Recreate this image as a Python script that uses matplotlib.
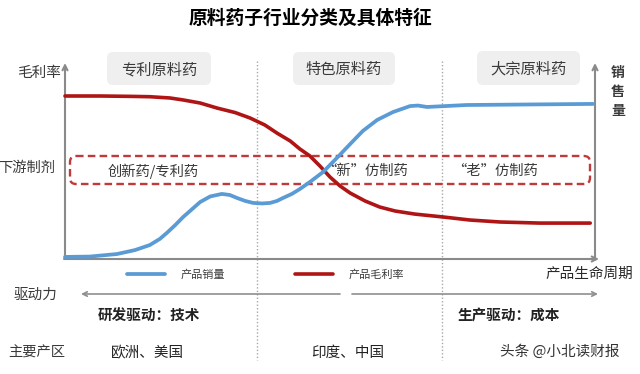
import matplotlib
matplotlib.use("Agg")
import matplotlib.pyplot as plt
from matplotlib.patches import FancyBboxPatch

plt.rcParams['font.family'] = ['Noto Sans CJK SC', 'DejaVu Sans']

# ---------------- data ----------------
# product life-cycle position (0-100) and relative level (0-100)
sales_x = [0, 4.7, 9.8, 13.2, 16.0, 17.9, 19.2, 20.8, 22.3, 24.0, 25.5, 27.4, 29.6, 31.1,
           32.5, 34.0, 35.5, 37.2, 38.7, 40.0, 41.1, 42.8, 44.3, 46.2, 48.7, 51.3, 53.8,
           56.2, 58.9, 61.9, 65.1, 66.6, 68.3, 71.7, 75.8, 87.7, 99.6]
sales_y = [0.6, 0.8, 2.2, 4.4, 7.2, 10.6, 13.9, 18.3, 22.8, 27.2, 31.1, 34.2, 35.6, 35.0,
           33.3, 31.7, 30.6, 30.3, 30.6, 31.7, 33.3, 35.6, 38.3, 42.2, 47.8, 55.6, 63.3,
           70.6, 76.7, 81.1, 84.4, 84.7, 83.9, 84.4, 85.0, 85.3, 85.6]
margin_x = [0, 6.6, 12.3, 16.0, 19.8, 22.3, 25.5, 28.7, 32.1, 34.9, 37.7, 40.0, 42.5, 44.3,
            46.2, 48.1, 50.0, 51.9, 53.8, 56.6, 59.4, 62.3, 66.0, 71.3, 76.4, 82.1, 89.6, 99.1]
margin_y = [90.0, 90.0, 89.8, 89.6, 88.9, 87.8, 86.1, 83.3, 80.8, 77.8, 73.9, 69.4, 65.0, 60.6,
            56.7, 51.1, 45.0, 40.0, 36.1, 31.7, 28.3, 26.1, 24.4, 22.8, 21.1, 20.0, 19.4, 19.4]

title = "原料药子行业分类及具体特征"
segments = ["专利原料药", "特色原料药", "大宗原料药"]
downstream = ["创新药/专利药", "“新”仿制药", "“老”仿制药"]
legend_labels = ["产品销量", "产品毛利率"]
drivers = ["研发驱动：技术", "生产驱动：成本"]
regions = ["欧洲、美国", "印度、中国"]

BLUE = "#5B9BD5"
RED = "#B01515"
TXT = "#3a3a3a"
GRAY = "#8a8a8a"

W, H = 640, 374
fig = plt.figure(figsize=(W / 100, H / 100), dpi=100)

# overlay in pixel coordinates for layout
ov = fig.add_axes([0, 0, 1, 1])
ov.set_xlim(0, W)
ov.set_ylim(H, 0)
ov.axis("off")

# main plotting axes (life cycle 0-100 on x, level on y)
x0, x1, yb, yt = 65, 595, 258, 63
ax = fig.add_axes([x0 / W, (H - yb) / H, (x1 - x0) / W, (yb - yt) / H])
ax.set_xlim(0, 100)
ax.set_ylim(0, (yb - yt) / 1.8)
ax.axis("off")
ax.patch.set_alpha(0)

# title
ov.text(310, 18, title, ha="center", va="center", fontsize=13.5, fontweight="bold", color="black")

# segment boxes
for (bx0, bx1, by0, by1), lab in zip([(107, 211, 52, 85), (293, 395, 52, 85), (477, 580, 51, 85)], segments):
    ov.add_patch(FancyBboxPatch((bx0, by0), bx1 - bx0, by1 - by0,
                                boxstyle="round,pad=0,rounding_size=6",
                                fc="#efefef", ec="none", zorder=1))
    ov.text((bx0 + bx1) / 2, (by0 + by1) / 2 + 1, lab, ha="center", va="center",
            fontsize=11, color=TXT, zorder=2)

# dotted dividers
for xd in (257, 442):
    ov.plot([xd, xd], [61, 360], color="#a8a8a8", lw=1.0, ls=(0, (1, 1.5)), zorder=1)

# axes arrows
arr = dict(arrowstyle="->", color=GRAY, lw=1.5, shrinkA=0, shrinkB=0, mutation_scale=9)
ov.annotate("", xy=(x0, yt), xytext=(x0, yb + 1), arrowprops=arr, zorder=3)
ov.annotate("", xy=(x1, yt), xytext=(x1, yb + 1), arrowprops=arr, zorder=3)
ov.annotate("", xy=(599, yb + 1), xytext=(x0 - 1, yb + 1), arrowprops=arr, zorder=3)

ov.text(39, 73, "毛利率", ha="center", va="center", fontsize=10.5, color=TXT)
ov.text(618, 92, "销\n售\n量", ha="center", va="center", fontsize=10, color=TXT,
        fontweight="bold", linespacing=1.45)

# dashed downstream box
ov.add_patch(FancyBboxPatch((70, 156), 520, 28, boxstyle="round,pad=0,rounding_size=6",
                            fc="none", ec="#C0393B", lw=1.7, ls=(0, (3.2, 1.8)), zorder=4))
ov.text(27, 168, "下游制剂", ha="center", va="center", fontsize=10.3, color=TXT)
for xc, lab in zip([153, 365, 495], downstream):
    ov.text(xc, 171, lab, ha="center", va="center", fontsize=10.3, color=TXT, zorder=5)

# curves
ax.plot(margin_x, margin_y, color=RED, lw=2.6, solid_capstyle="round", solid_joinstyle="round",
        clip_on=False, label=legend_labels[1], zorder=6)
ax.plot(sales_x, sales_y, color=BLUE, lw=2.7, solid_capstyle="round", solid_joinstyle="round",
        clip_on=False, label=legend_labels[0], zorder=7)

# legend
h, l = ax.get_legend_handles_labels()
leg = fig.legend([h[1], h[0]], [l[1], l[0]], ncol=2, frameon=False, fontsize=8,
                 loc="center left", bbox_to_anchor=(127 / W, 1 - 275 / H),
                 borderaxespad=0, borderpad=0, handlelength=3.4, handletextpad=1.4,
                 columnspacing=6.3, labelcolor=TXT)

ov.text(633, 274, "产品生命周期", ha="right", va="center", fontsize=10.5, color="#2a2a2a",
        fontweight="medium")

# drivers
ov.text(36, 295, "驱动力", ha="center", va="center", fontsize=10.5, color=TXT)
arr2 = dict(arrowstyle="->", color="#8f8f8f", lw=1.2, shrinkA=0, shrinkB=0, mutation_scale=8)
ov.annotate("", xy=(81, 294), xytext=(340, 294), arrowprops=arr2)
ov.annotate("", xy=(598, 294), xytext=(352, 294), arrowprops=arr2)
for xc, lab in zip([149, 509], drivers):
    ov.text(xc, 316, lab, ha="center", va="center", fontsize=10.5, color="#222222", fontweight="bold")

# regions
ov.text(37, 353, "主要产区", ha="center", va="center", fontsize=10.3, color=TXT)
for xc, lab in zip([148, 348], regions):
    ov.text(xc, 353, lab, ha="center", va="center", fontsize=10.5, color="#222222")
ov.text(560, 352, "头条 @小北读财报", ha="center", va="center", fontsize=10.5, color="#333333")

fig.savefig("out.png", dpi=100)
